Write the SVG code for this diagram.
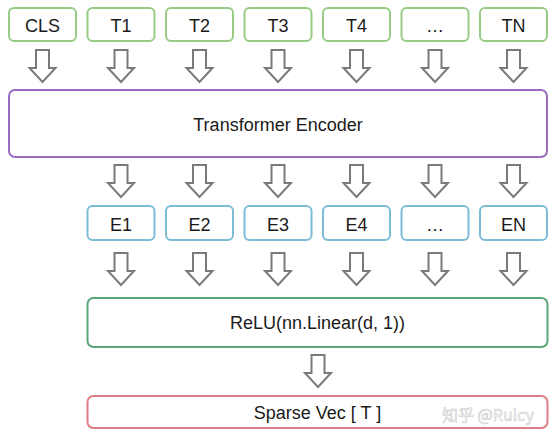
<svg xmlns="http://www.w3.org/2000/svg" width="554" height="438" viewBox="0 0 554 438">
<defs>
<style>
.t{font-family:"Liberation Sans",Arial,sans-serif;font-size:18px;fill:#1a1a1a;text-anchor:middle}
.g{fill:#fff;stroke:#97cc84;stroke-width:2}
.b{fill:#fff;stroke:#7dbcd6;stroke-width:2}
.p{fill:#fff;stroke:#9c6cc0;stroke-width:2}
.r{fill:#fff;stroke:#5aa878;stroke-width:2}
.s{fill:#fff;stroke:#e07d84;stroke-width:2}
.a{fill:#fff;stroke:#7a7a7a;stroke-width:2;stroke-linejoin:miter}
.w{font-family:"Noto Sans CJK SC","Liberation Sans",sans-serif;font-size:16px;fill:#fafafa;stroke:#c4c4c4;stroke-width:0.5}
</style>
<path id="arr" d="M-6.5,0 H6.5 V18 H13 L0,32 L-13,18 H-6.5 Z"/>
</defs>
<rect width="554" height="438" fill="#fff"/>

<g id="connectors">
<use href="#arr" class="a" x="42.5" y="50"/>
<use href="#arr" class="a" x="121" y="50"/>
<use href="#arr" class="a" x="199.5" y="50"/>
<use href="#arr" class="a" x="278" y="50"/>
<use href="#arr" class="a" x="356.5" y="50"/>
<use href="#arr" class="a" x="435" y="50"/>
<use href="#arr" class="a" x="513.5" y="50"/>

<use href="#arr" class="a" x="121" y="165"/>
<use href="#arr" class="a" x="199.5" y="165"/>
<use href="#arr" class="a" x="278" y="165"/>
<use href="#arr" class="a" x="356.5" y="165"/>
<use href="#arr" class="a" x="435" y="165"/>
<use href="#arr" class="a" x="513.5" y="165"/>

<use href="#arr" class="a" x="121" y="253"/>
<use href="#arr" class="a" x="199.5" y="253"/>
<use href="#arr" class="a" x="278" y="253"/>
<use href="#arr" class="a" x="356.5" y="253"/>
<use href="#arr" class="a" x="435" y="253"/>
<use href="#arr" class="a" x="513.5" y="253"/>

<use href="#arr" class="a" x="318" y="355"/>
</g>

<g id="tok-cls"><rect class="g" x="9" y="8" width="67" height="33" rx="5"/><text class="t" x="42.5" y="31.5">CLS</text></g>
<g id="tok-t1"><rect class="g" x="87.5" y="8" width="67" height="33" rx="5"/><text class="t" x="121" y="31.5">T1</text></g>
<g id="tok-t2"><rect class="g" x="166" y="8" width="67" height="33" rx="5"/><text class="t" x="199.5" y="31.5">T2</text></g>
<g id="tok-t3"><rect class="g" x="244.5" y="8" width="67" height="33" rx="5"/><text class="t" x="278" y="31.5">T3</text></g>
<g id="tok-t4"><rect class="g" x="323" y="8" width="67" height="33" rx="5"/><text class="t" x="356.5" y="31.5">T4</text></g>
<g id="tok-dots"><rect class="g" x="401.5" y="8" width="67" height="33" rx="5"/><text class="t" x="435" y="31.5">…</text></g>
<g id="tok-tn"><rect class="g" x="480" y="8" width="67" height="33" rx="5"/><text class="t" x="513.5" y="31.5">TN</text></g>

<g id="encoder"><rect class="p" x="9" y="90" width="538" height="67" rx="6"/><text class="t" x="278" y="131">Transformer Encoder</text></g>

<g id="emb-e1"><rect class="b" x="87.5" y="206" width="67" height="34" rx="5"/><text class="t" x="121" y="230.5">E1</text></g>
<g id="emb-e2"><rect class="b" x="166" y="206" width="67" height="34" rx="5"/><text class="t" x="199.5" y="230.5">E2</text></g>
<g id="emb-e3"><rect class="b" x="244.5" y="206" width="67" height="34" rx="5"/><text class="t" x="278" y="230.5">E3</text></g>
<g id="emb-e4"><rect class="b" x="323" y="206" width="67" height="34" rx="5"/><text class="t" x="356.5" y="230.5">E4</text></g>
<g id="emb-dots"><rect class="b" x="401.5" y="206" width="67" height="34" rx="5"/><text class="t" x="435" y="230.5">…</text></g>
<g id="emb-en"><rect class="b" x="480" y="206" width="67" height="34" rx="5"/><text class="t" x="513.5" y="230.5">EN</text></g>

<g id="relu"><rect class="r" x="87.5" y="298" width="460" height="49" rx="6"/><text class="t" x="317.5" y="329">ReLU(nn.Linear(d, 1))</text></g>

<g id="sparse"><rect class="s" x="87.5" y="396" width="460" height="32" rx="6"/><text class="t" x="317.5" y="419">Sparse Vec [ T ]</text></g>

<text class="w" x="442" y="421">知乎 @Rulcy</text>
</svg>
